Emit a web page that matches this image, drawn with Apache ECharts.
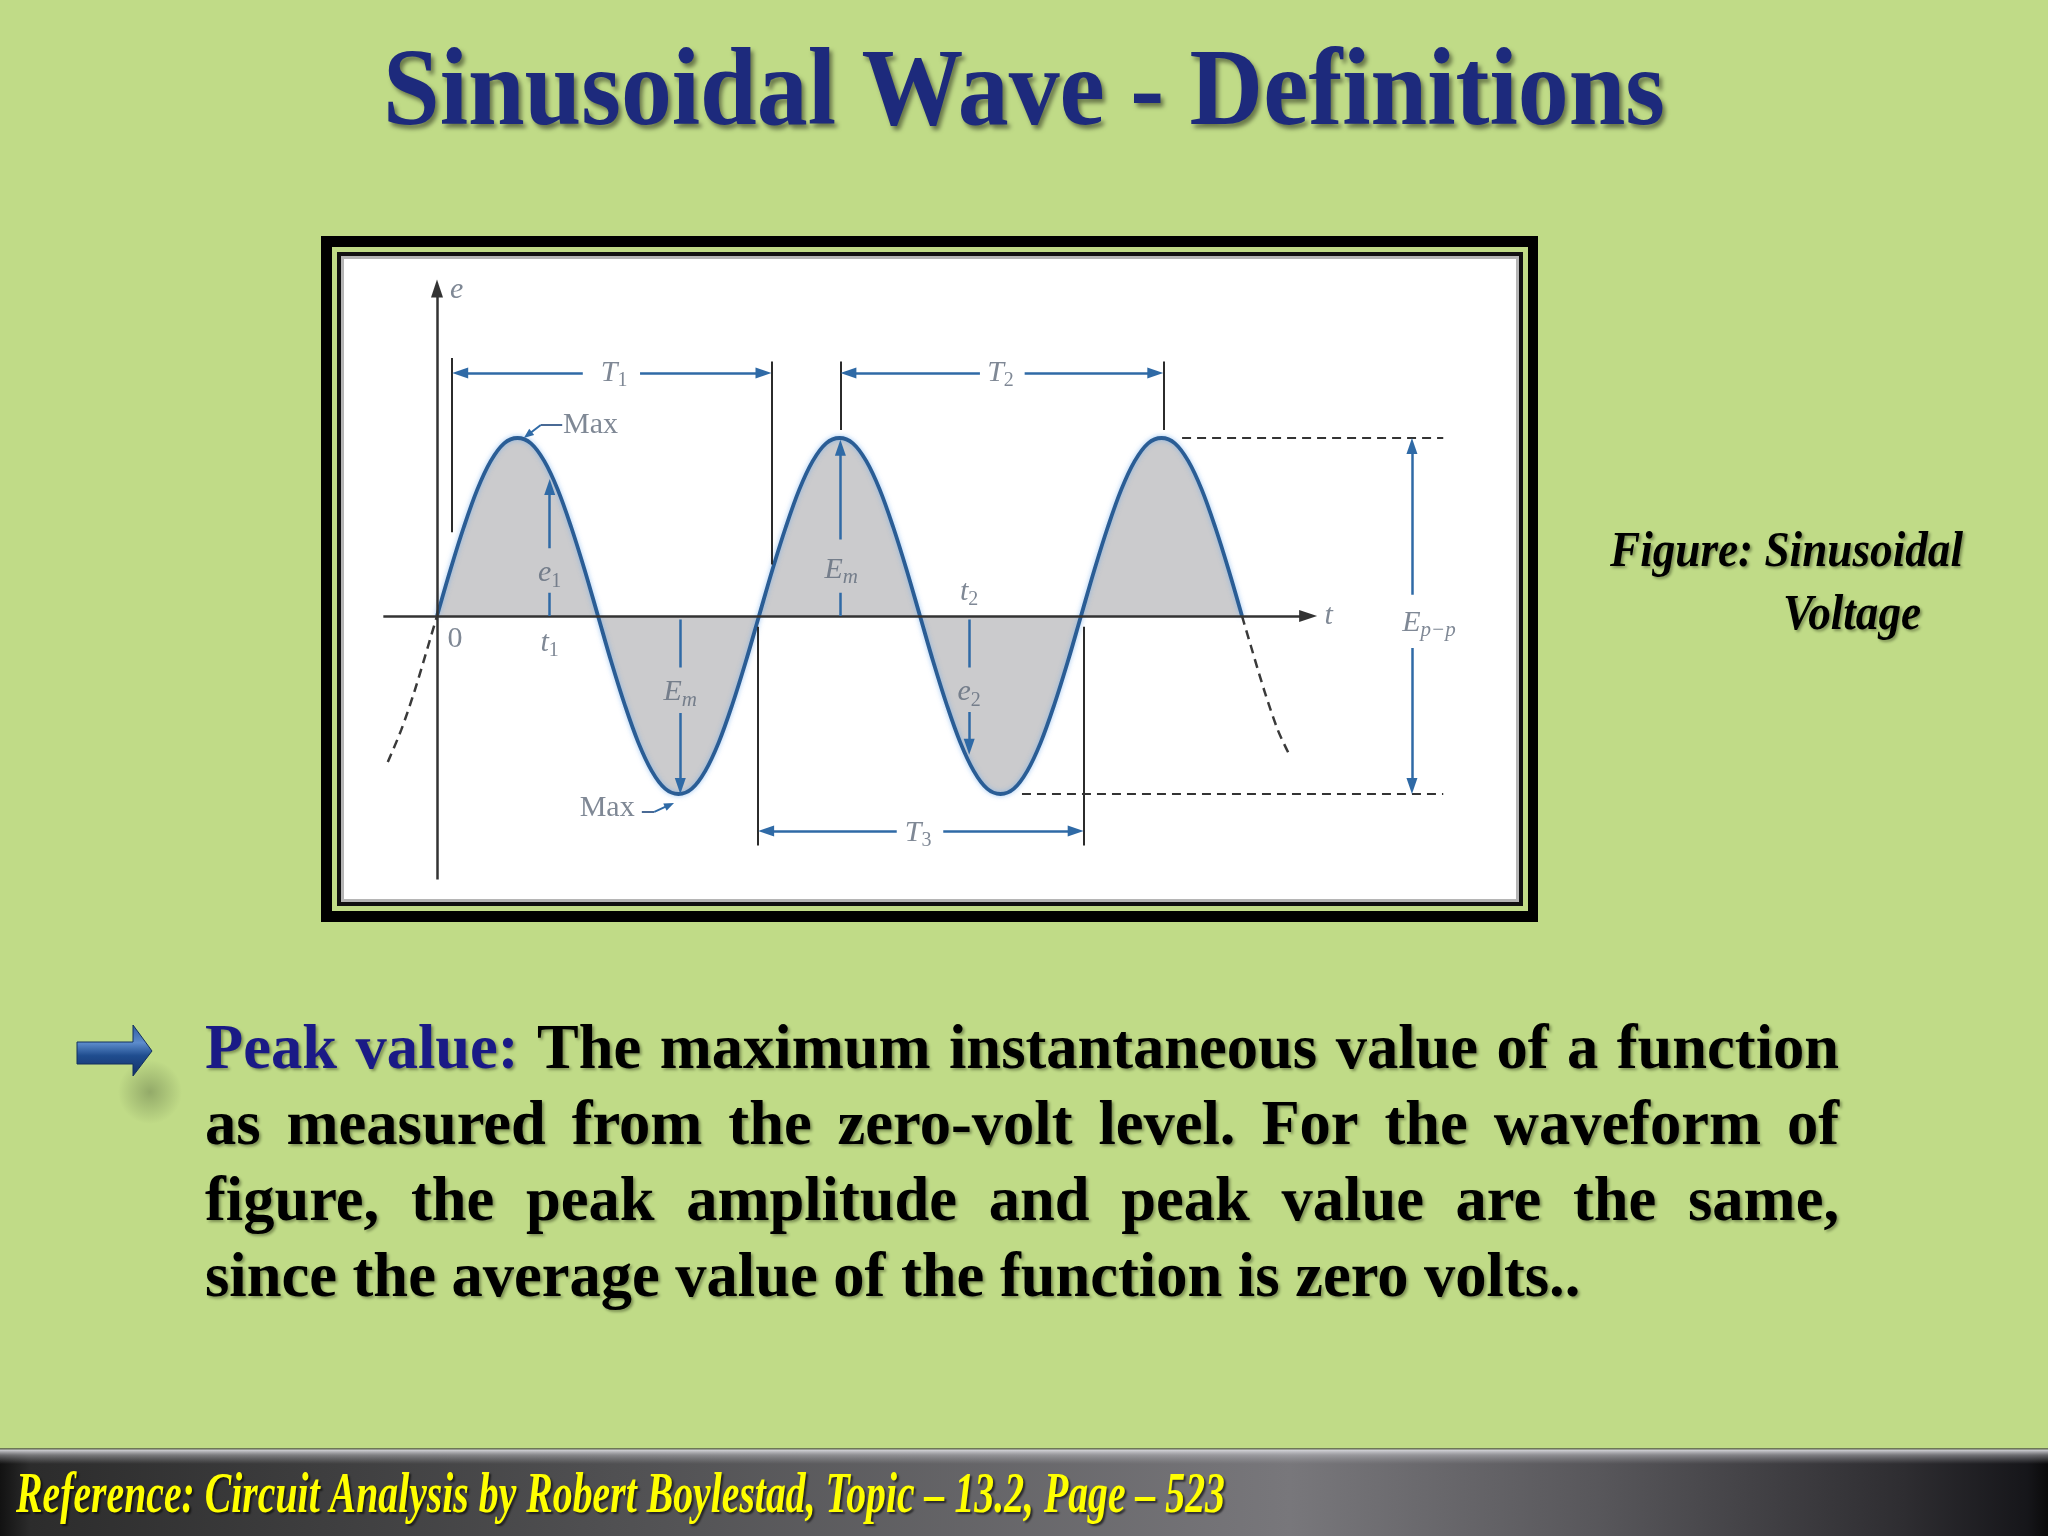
<!DOCTYPE html>
<html>
<head>
<meta charset="utf-8">
<script src="https://cdn.jsdelivr.net/npm/echarts@6/dist/echarts.min.js"></script>
<style>
html,body{margin:0;padding:0;background:#c0db87;}
#c{width:2048px;height:1536px;}
</style>
</head>
<body>
<div id="c"></div>
<script>
// ================= DATA =================
// Solid sinusoid: phase in degrees, value in units of Em
const wavePhaseDeg = [0,15,30,45,60,75,90,105,120,135,150,165,180,195,210,225,240,255,270,285,300,315,330,345,
  360,375,390,405,420,435,450,465,480,495,510,525,540,555,570,585,600,615,630,645,660,675,690,705,
  720,735,750,765,780,795,810,825,840,855,870,885,900];
const waveValue = [0,0.26,0.5,0.71,0.87,0.97,1,0.97,0.87,0.71,0.5,0.26,0,-0.26,-0.5,-0.71,-0.87,-0.97,-1,-0.97,-0.87,-0.71,-0.5,-0.26,
  0,0.26,0.5,0.71,0.87,0.97,1,0.97,0.87,0.71,0.5,0.26,0,-0.26,-0.5,-0.71,-0.87,-0.97,-1,-0.97,-0.87,-0.71,-0.5,-0.26,
  0,0.26,0.5,0.71,0.87,0.97,1,0.97,0.87,0.71,0.5,0.26,0];
// Dashed continuation before 0 and after the last zero crossing
const leadInPhaseDeg = [-55,-40,-25,-10,0];
const leadInValue = [-0.82,-0.64,-0.42,-0.17,0];
const leadOutPhaseDeg = [900,910,925,940,952];
const leadOutValue = [0,-0.17,-0.42,-0.64,-0.77];

// Axis extents (data units)
const axisE = [[0,-1.48],[0,1.89]];
const axisT = [[-60,0],[984,0]];

// Dimension / annotation segments (phase deg, e)
const blackLines = [
  [[17,1.45],[17,0.47]], [[374,1.43],[374,0.29]],
  [[451,1.43],[451,1.045]], [[812,1.43],[812,1.045]],
  [[359,-0.06],[359,-1.29]], [[723,-0.06],[723,-1.29]]
];
const blueTicks = [
  [[126,0],[126,0.13]], [[451,0],[451,0.13]],
  [[272,-0.02],[272,-0.29]], [[595,-0.02],[595,-0.29]]
];
const blueArrows = [
  [[163,1.365],[17,1.365]], [[227,1.365],[374,1.365]],
  [[607,1.365],[451,1.365]], [[657,1.365],[812,1.365]],
  [[514,-1.208],[359,-1.208]], [[566,-1.208],[723,-1.208]],
  [[1090,0.12],[1090,1]], [[1090,-0.18],[1090,-1]],
  [[272,-0.545],[272,-1]], [[451,0.43],[451,0.99]],
  [[126,0.38],[126,0.77]], [[595,-0.54],[595,-0.78]]
];
const dashedRefs = [ [[833,1],[1125,1]], [[654,-1],[1125,-1]] ];
const leaderLines = [ [[140,1.073],[116,1.073]], [[229,-1.10],[243,-1.10]] ];
const leaderArrows = [ [[116,1.073],[97,1.0]], [[243,-1.10],[265,-1.05]] ];

// Figure labels
const figLabels = [
  {x:22, y:1.83, t:'{i|e}', a:'center'},
  {x:198, y:1.365, t:'{i|T}{s|1}', a:'center'},
  {x:630, y:1.365, t:'{i|T}{s|2}', a:'center'},
  {x:538, y:-1.22, t:'{i|T}{s|3}', a:'center'},
  {x:141, y:1.073, t:'{r|Max}', a:'left'},
  {x:221, y:-1.08, t:'{r|Max}', a:'right'},
  {x:126, y:0.24, t:'{i|e}{s|1}', a:'center'},
  {x:595, y:-0.43, t:'{i|e}{s|2}', a:'center'},
  {x:20, y:-0.13, t:'{r|0}', a:'center'},
  {x:126, y:-0.15, t:'{i|t}{s|1}', a:'center'},
  {x:595, y:0.135, t:'{i|t}{s|2}', a:'center'},
  {x:272, y:-0.43, t:'{i|E}{si|m}', a:'center'},
  {x:452, y:0.26, t:'{i|E}{si|m}', a:'center'},
  {x:997, y:0.0, t:'{i|t}', a:'center'},
  {x:1109, y:-0.04, t:'{i|E}{si|p\u2212p}', a:'center'}
];

// Slide texts
const titleText = 'Sinusoidal Wave - Definitions';
const captionLines = ['Figure: Sinusoidal', 'Voltage'];
const paraLines = [
  'Peak value: The maximum instantaneous value of a function',
  'as measured from the zero-volt level. For the waveform of',
  'figure, the peak amplitude and peak value are the same,',
  'since the average value of the function is zero volts..'
];
const paraLead = 'Peak value:';
const footerText = 'Reference: Circuit Analysis by Robert Boylestad, Topic \u2013 13.2, Page \u2013 523';

// ================= STYLE / LAYOUT =================
const BG = '#c0db87';
const CURVE = '#2a5d95';
const BLUE = '#2f6aa6';
const LBL = '#5f6a7a';
const SERIF = '"Liberation Serif", "Times New Roman", serif';
const GRID = {left:340.4, top:260, width:1159.2, height:640.8};
const XMIN=-108, XMAX=1188, YMIN=-1.6, YMAX=2.0;
const PX_PER_DEG = GRID.width/(XMAX-XMIN), PX_PER_E = GRID.height/(YMAX-YMIN);

function tipAdjust(seg, len){
  const a=seg[0], b=seg[1];
  const dx=(b[0]-a[0])*PX_PER_DEG, dy=(b[1]-a[1])*PX_PER_E;
  const d=Math.hypot(dx,dy); const k=Math.max(0,(d-len)/d);
  return [a,[a[0]+(b[0]-a[0])*k, a[1]+(b[1]-a[1])*k]];
}
function zip(a,b){ return a.map((v,i)=>[v,b[i]]); }

const mctx = document.createElement('canvas').getContext('2d');
function textW(font, s){ mctx.font = font; return mctx.measureText(s).width; }

const graphics = [];
// picture frame
graphics.push({type:'rect', z:0, shape:{x:321,y:236,width:1217,height:686}, style:{fill:'#000'}});
graphics.push({type:'rect', z:0, shape:{x:332,y:247,width:1196,height:664}, style:{fill:BG}});
graphics.push({type:'rect', z:0, shape:{x:337,y:252,width:1186,height:654}, style:{fill:'#111'}});
graphics.push({type:'rect', z:0, shape:{x:341,y:256,width:1178,height:646}, style:{fill:'#ffffff'}});
graphics.push({type:'rect', z:0, shape:{x:342.5,y:257.5,width:1175,height:643}, style:{fill:'none', stroke:'rgba(150,150,150,0.7)', lineWidth:3}});

// Title
const TFONT = 'bold 110px ' + SERIF;
const tScale = 1282 / textW(TFONT, titleText);
graphics.push({type:'text', z:10, x:1024, y:96, scaleX:tScale, style:{text:titleText, font:TFONT, fill:'#1d2a7c',
  textAlign:'center', textVerticalAlign:'middle', align:'center', verticalAlign:'middle',
  shadowColor:'rgba(0,0,0,0.45)', shadowBlur:4, shadowOffsetX:3, shadowOffsetY:4,
  textShadowColor:'rgba(0,0,0,0.45)', textShadowBlur:4, textShadowOffsetX:3, textShadowOffsetY:4}});

// Caption
const CFONT = 'bold italic 50px ' + SERIF;
const cScale = 353 / textW(CFONT, captionLines[0]);
[[1610,553],[1783,616]].forEach((p,i)=>{
  graphics.push({type:'text', z:10, x:p[0], y:p[1], scaleX:cScale, style:{text:captionLines[i], font:CFONT, fill:'#000',
    textAlign:'left', textVerticalAlign:'middle', align:'left', verticalAlign:'middle',
    shadowColor:'rgba(40,50,20,0.45)', shadowBlur:3, shadowOffsetX:2, shadowOffsetY:2,
    textShadowColor:'rgba(40,50,20,0.45)', textShadowBlur:3, textShadowOffsetX:2, textShadowOffsetY:2}});
});

// Bullet arrow + its soft shadow
graphics.push({type:'circle', z:1, shape:{cx:150, cy:1092, r:32}, style:{fill:{type:'radial', x:0.5,y:0.5,r:0.5,
  colorStops:[{offset:0,color:'rgba(110,130,80,0.55)'},{offset:1,color:'rgba(110,130,80,0)'}]}}});
graphics.push({type:'polygon', z:2, shape:{points:[[77,1042],[133,1042],[133,1025],[152,1051],[133,1076],[133,1064],[77,1064]]},
  style:{fill:{type:'linear', x:0,y:0,x2:0,y2:1, colorStops:[{offset:0,color:'#2c5aa0'},{offset:0.35,color:'#5d8ccc'},{offset:0.6,color:'#1f4d8f'},{offset:1,color:'#142f66'}]},
  stroke:'#13305f', lineWidth:1}});

// Paragraph (justified)
const PFONT = 'bold 62.5px ' + SERIF;
const PL = 205, PR = 1839, baseY = [1052,1128,1204,1280];
paraLines.forEach((line, li)=>{
  const words = line.split(' ');
  const ws = words.map(w=>textW(PFONT,w));
  const tot = ws.reduce((s,v)=>s+v,0);
  const justify = li < paraLines.length-1;
  const gap = justify ? (PR-PL-tot)/(words.length-1) : textW(PFONT,' ');
  let x = PL;
  const leadCount = li===0 ? paraLead.split(' ').length : 0;
  words.forEach((w,wi)=>{
    graphics.push({type:'text', z:10, x:x, y:baseY[li], style:{text:w, font:PFONT, fill: wi<leadCount ? '#1a1a86' : '#000',
      textAlign:'left', textVerticalAlign:'middle', align:'left', verticalAlign:'middle',
      shadowColor:'rgba(40,50,20,0.45)', shadowBlur:3, shadowOffsetX:2, shadowOffsetY:2,
      textShadowColor:'rgba(40,50,20,0.45)', textShadowBlur:3, textShadowOffsetX:2, textShadowOffsetY:2}});
    x += ws[wi] + gap;
  });
});

// Footer bar
graphics.push({type:'rect', z:1, shape:{x:0,y:1449,width:2048,height:87}, style:{fill:{type:'linear',x:0,y:0,x2:1,y2:0,
  colorStops:[{offset:0,color:'#121212'},{offset:0.015,color:'#2c2c2c'},{offset:0.3,color:'#505052'},{offset:0.63,color:'#78777b'},
  {offset:0.78,color:'#58575b'},{offset:0.93,color:'#2e2d31'},{offset:0.99,color:'#16161a'},{offset:1,color:'#0a0a0a'}]}}});
graphics.push({type:'rect', z:2, shape:{x:0,y:1448,width:2048,height:16}, style:{fill:{type:'linear',x:0,y:0,x2:0,y2:1,
  colorStops:[{offset:0,color:'rgba(70,80,45,0.9)'},{offset:0.15,color:'rgba(215,215,220,0.9)'},{offset:0.45,color:'rgba(190,190,195,0.5)'},{offset:1,color:'rgba(170,170,175,0)'}]}}});
const FFONT = 'bold italic 56px ' + SERIF;
const fScale = 1209 / textW(FFONT, footerText);
graphics.push({type:'text', z:10, x:16, y:1498, scaleX:fScale, style:{text:footerText, font:FFONT, fill:'#ffff00',
  textAlign:'left', textVerticalAlign:'middle', align:'left', verticalAlign:'middle',
  shadowColor:'rgba(0,0,0,0.6)', shadowBlur:2, shadowOffsetX:2, shadowOffsetY:2,
  textShadowColor:'rgba(0,0,0,0.6)', textShadowBlur:2, textShadowOffsetX:2, textShadowOffsetY:2}});

const RICH = {
  i:{fontFamily:SERIF, fontStyle:'italic', fontSize:30, color:LBL, lineHeight:36},
  r:{fontFamily:SERIF, fontSize:30, color:LBL, lineHeight:36},
  s:{fontFamily:SERIF, fontSize:20, color:LBL, lineHeight:16, verticalAlign:'bottom'},
  si:{fontFamily:SERIF, fontStyle:'italic', fontSize:21, color:LBL, lineHeight:16, verticalAlign:'bottom'}
};

function linesSeries(segs, color, width, symbol, size, dash, z){
  return {type:'lines', coordinateSystem:'cartesian2d', polyline:false, silent:true, z:z||4,
    symbol: symbol || ['none','none'], symbolSize: size || [[1,1],[1,1]],
    lineStyle:{color:color, width:width, opacity:1, curveness:0, type: dash || 'solid'},
    data: segs.map(s=>({coords:s}))};
}

const option = {
  backgroundColor: BG,
  animation: false,
  grid: GRID,
  xAxis: {type:'value', min:XMIN, max:XMAX, show:false},
  yAxis: {type:'value', min:YMIN, max:YMAX, show:false},
  graphic: {elements: graphics},
  series: [
    {type:'line', name:'e', data: zip(wavePhaseDeg, waveValue), showSymbol:false, smooth:0.35, z:3, silent:true,
      lineStyle:{color:CURVE, width:3.8, shadowColor:'rgba(110,170,235,0.7)', shadowBlur:5},
      areaStyle:{color:'#cbcbcd', opacity:1, origin:0}},
    {type:'line', data: zip(leadInPhaseDeg, leadInValue), showSymbol:false, smooth:0.3, z:3, silent:true,
      lineStyle:{color:'#3a3a3a', width:2.5, type:[9,6]}},
    {type:'line', data: zip(leadOutPhaseDeg, leadOutValue), showSymbol:false, smooth:0.3, z:3, silent:true,
      lineStyle:{color:'#3a3a3a', width:2.5, type:[9,6]}},
    linesSeries([axisE, axisT].map(s=>tipAdjust(s,9)), '#333', 2.5, ['none','triangle'], [[1,1],[12,18]], null, 4),
    linesSeries(blackLines, '#2b2b2b', 2, null, null, null, 4),
    linesSeries(blueTicks, BLUE, 2.5, null, null, null, 5),
    linesSeries(blueArrows.map(s=>tipAdjust(s,8)), BLUE, 2.5, ['none','triangle'], [[1,1],[11,16]], null, 5),
    linesSeries(dashedRefs, '#333', 2, null, null, [9,6], 4),
    linesSeries(leaderLines, '#4a6a95', 2, null, null, null, 5),
    linesSeries(leaderArrows.map(s=>tipAdjust(s,5)), BLUE, 2, ['none','triangle'], [[1,1],[8,10]], null, 5),
    {type:'scatter', symbolSize:0, silent:true, z:6,
      data: figLabels.map(l=>({value:[l.x,l.y], label:{show:true, position:[0,0], align:l.a, verticalAlign:'middle',
        formatter:l.t, rich:RICH, backgroundColor:'transparent'}}))}
  ]
};

const chart = echarts.init(document.getElementById('c'), null, {renderer:'canvas', width:2048, height:1536});
chart.setOption(option);
</script>
</body>
</html>
